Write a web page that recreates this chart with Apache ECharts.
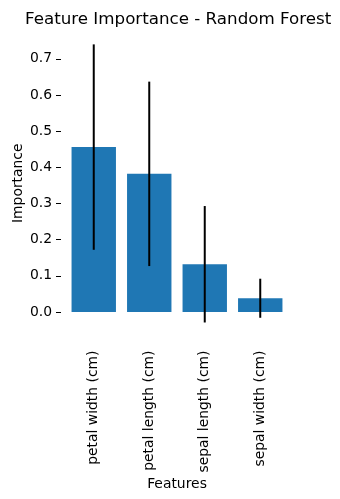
<!DOCTYPE html>
<html>
<head>
<meta charset="utf-8">
<script src="https://cdn.jsdelivr.net/npm/echarts@6/dist/echarts.min.js"></script>
<style>
  html, body { margin: 0; padding: 0; background: #fff; }
  #chart { width: 340px; height: 499px; }
</style>
</head>
<body>
<div id="chart"></div>
<script>
// feature importance
const features = ["petal width (cm)", "petal length (cm)", "sepal length (cm)", "sepal width (cm)"];
const importance = [0.456, 0.382, 0.132, 0.038];
const stdDev = [0.284, 0.255, 0.161, 0.054];
const yTicks = [0, 0.1, 0.2, 0.3, 0.4, 0.5, 0.6, 0.7];

const font = "DejaVu Sans";
const chart = echarts.init(document.getElementById("chart"));

const errData = features.map((f, i) => [i, importance[i] - stdDev[i], importance[i] + stdDev[i]]);

chart.setOption({
  animation: false,
  textStyle: { fontFamily: font, color: "#000" },
  title: {
    text: "Feature Importance - Random Forest",
    left: 20,
    top: 6,
    textStyle: { fontFamily: font, fontSize: 16.7, fontWeight: "normal", color: "#000" }
  },
  grid: { left: 66, width: 222, top: 31, bottom: 163.5, containLabel: false, outerBoundsMode: "none" },
  xAxis: {
    type: "category",
    data: features,
    name: "Features",
    nameLocation: "middle",
    nameGap: 142,
    nameMoveOverlap: false,
    nameTextStyle: { fontFamily: font, fontSize: 13.9, color: "#000" },
    axisLine: { show: false },
    axisTick: { show: false },
    axisLabel: { rotate: 90, margin: 15, fontSize: 13.9, color: "#000", fontFamily: font }
  },
  yAxis: {
    type: "value",
    min: -0.065,
    max: 0.777,
    offset: 5,
    name: "Importance",
    nameLocation: "middle",
    nameGap: 36,
    nameMoveOverlap: false,
    nameRotate: 90,
    nameTextStyle: { fontFamily: font, fontSize: 13.9, color: "#000" },
    splitLine: { show: false },
    axisLine: { show: false },
    axisTick: { show: true, length: 5, customValues: yTicks, lineStyle: { color: "#000", width: 1 } },
    axisLabel: {
      customValues: yTicks,
      margin: 9,
      fontSize: 13.9,
      color: "#000",
      fontFamily: font,
      formatter: v => v.toFixed(1)
    }
  },
  series: [
    {
      type: "bar",
      data: importance,
      barWidth: "80%",
      itemStyle: { color: "#1f77b4" }
    },
    {
      type: "custom",
      data: errData,
      z: 5,
      renderItem: (params, api) => {
        const lo = api.coord([api.value(0), api.value(1)]);
        const hi = api.coord([api.value(0), api.value(2)]);
        return {
          type: "line",
          shape: { x1: lo[0], y1: lo[1], x2: hi[0], y2: hi[1] },
          style: { stroke: "#000", lineWidth: 2 }
        };
      }
    }
  ]
});
</script>
</body>
</html>
